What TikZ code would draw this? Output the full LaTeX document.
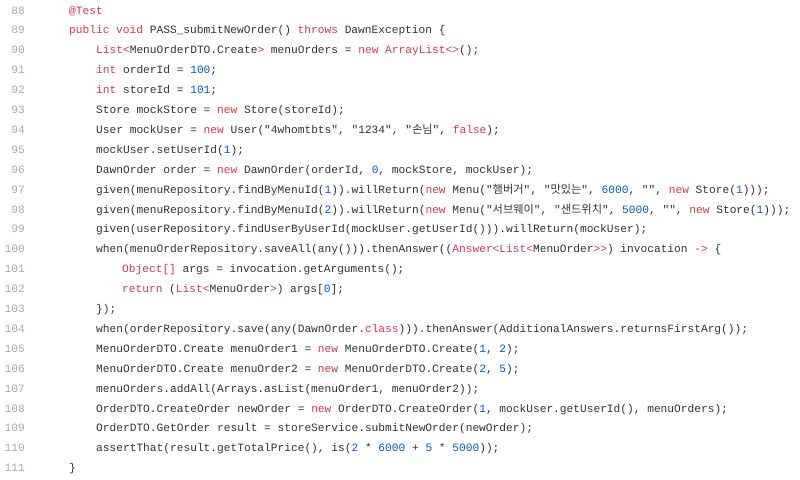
\documentclass[tikz,border=0pt]{standalone}
\usepackage{fontspec}
\newfontfamily\code{Liberation Mono}
\newfontfamily\kr{Noto Sans CJK KR}
\definecolor{kw}{HTML}{D73A49}
\definecolor{nm}{HTML}{005CC5}
\definecolor{tx}{HTML}{333333}
\definecolor{ln}{HTML}{AAAAAA}
\newcommand{\K}[1]{\textcolor{kw}{#1}}
\newcommand{\N}[1]{\textcolor{nm}{#1}}
\begin{document}
\begin{tikzpicture}[x=1pt,y=-1pt,
  cl/.style={anchor=base west,inner sep=0pt,font=\code\fontsize{11.2}{13}\selectfont,text=tx},
  lnum/.style={anchor=base east,inner sep=0pt,font=\code\fontsize{11.2}{13}\selectfont,text=ln}]
\useasboundingbox[fill=white] (0,0) rectangle (800,479);
\def\LA{69}\def\LB{96}\def\LC{122}
\foreach \i/\n in {0/88,1/89,2/90,3/91,4/92,5/93,6/94,7/95,8/96,9/97,10/98,11/99,12/100,13/101,14/102,15/103,16/104,17/105,18/106,19/107,20/108,21/109,22/110,23/111}
  \node[lnum] (n\n) at (25,{14+\i*19.9}) {\n};
\newcommand{\Ln}[3]{\node[cl] (c#1) at (#2,{14+#1*19.9}) {#3};}
\Ln{0}{\LA}{\K{@Test}}
\Ln{1}{\LA}{\K{public} \K{void} PASS\_submitNewOrder() \K{throws} DawnException \{}
\Ln{2}{\LB}{\K{List<}MenuOrderDTO.Create\K{>} menuOrders = \K{new} \K{ArrayList<>}();}
\Ln{3}{\LB}{\K{int} orderId = \N{100};}
\Ln{4}{\LB}{\K{int} storeId = \N{101};}
\Ln{5}{\LB}{Store mockStore = \K{new} Store(storeId);}
\Ln{6}{\LB}{User mockUser = \K{new} User("4whomtbts", "1234", "{\kr 손님}", \K{false});}
\Ln{7}{\LB}{mockUser.setUserId(\N{1});}
\Ln{8}{\LB}{DawnOrder order = \K{new} DawnOrder(orderId, \N{0}, mockStore, mockUser);}
\Ln{9}{\LB}{given(menuRepository.findByMenuId(\N{1})).willReturn(\K{new} Menu("{\kr 햄버거}", "{\kr 맛있는}", \N{6000}, "", \K{new} Store(\N{1})));}
\Ln{10}{\LB}{given(menuRepository.findByMenuId(\N{2})).willReturn(\K{new} Menu("{\kr 서브웨이}", "{\kr 샌드위치}", \N{5000}, "", \K{new} Store(\N{1})));}
\Ln{11}{\LB}{given(userRepository.findUserByUserId(mockUser.getUserId())).willReturn(mockUser);}
\Ln{12}{\LB}{when(menuOrderRepository.saveAll(any())).thenAnswer((\K{Answer<List<}MenuOrder\K{>>}) invocation \K{->} \{}
\Ln{13}{\LC}{\K{Object[]} args = invocation.getArguments();}
\Ln{14}{\LC}{\K{return} (\K{List<}MenuOrder\K{>}) args[\N{0}];}
\Ln{15}{\LB}{\});}
\Ln{16}{\LB}{when(orderRepository.save(any(DawnOrder.\K{class}))).thenAnswer(AdditionalAnswers.returnsFirstArg());}
\Ln{17}{\LB}{MenuOrderDTO.Create menuOrder1 = \K{new} MenuOrderDTO.Create(\N{1}, \N{2});}
\Ln{18}{\LB}{MenuOrderDTO.Create menuOrder2 = \K{new} MenuOrderDTO.Create(\N{2}, \N{5});}
\Ln{19}{\LB}{menuOrders.addAll(Arrays.asList(menuOrder1, menuOrder2));}
\Ln{20}{\LB}{OrderDTO.CreateOrder newOrder = \K{new} OrderDTO.CreateOrder(\N{1}, mockUser.getUserId(), menuOrders);}
\Ln{21}{\LB}{OrderDTO.GetOrder result = storeService.submitNewOrder(newOrder);}
\Ln{22}{\LB}{assertThat(result.getTotalPrice(), is(\N{2} * \N{6000} + \N{5} * \N{5000}));}
\Ln{23}{\LA}{\}}
\end{tikzpicture}
\end{document}
